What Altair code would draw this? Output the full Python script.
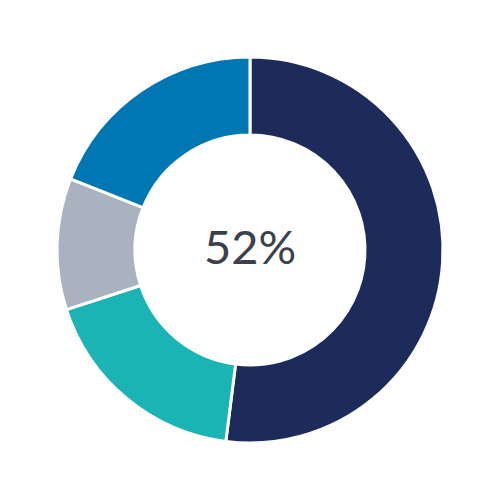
import altair as alt
import pandas as pd

categories = ["A", "B", "C", "D"]
values = [52, 18, 11, 19]
colors = ["#1c2b5a", "#1bb4b4", "#a9b3c0", "#0077b3"]
order = [0, 1, 2, 3]
center_label = ["52%"]

df = pd.DataFrame({"cat": categories, "value": values, "order": order})

W = 484
arc = alt.Chart(df).mark_arc(outerRadius=193, innerRadius=115, stroke="white", strokeWidth=3).encode(
    theta=alt.Theta("value:Q", stack=True),
    color=alt.Color("cat:N", scale=alt.Scale(domain=categories, range=colors), legend=None),
    order=alt.Order("order:Q", sort="ascending"),
)

text = alt.Chart(pd.DataFrame({"t": center_label})).mark_text(
    fontSize=47, font="Lato", color="#3b404b", align="center", baseline="middle"
).encode(text="t:N", x=alt.value(W / 2), y=alt.value(W / 2))

chart = alt.layer(arc, text).properties(
    width=W, height=W, padding=0
).configure_view(stroke=None)

chart.save("out.html", embed_options={"renderer": "svg", "actions": False})
